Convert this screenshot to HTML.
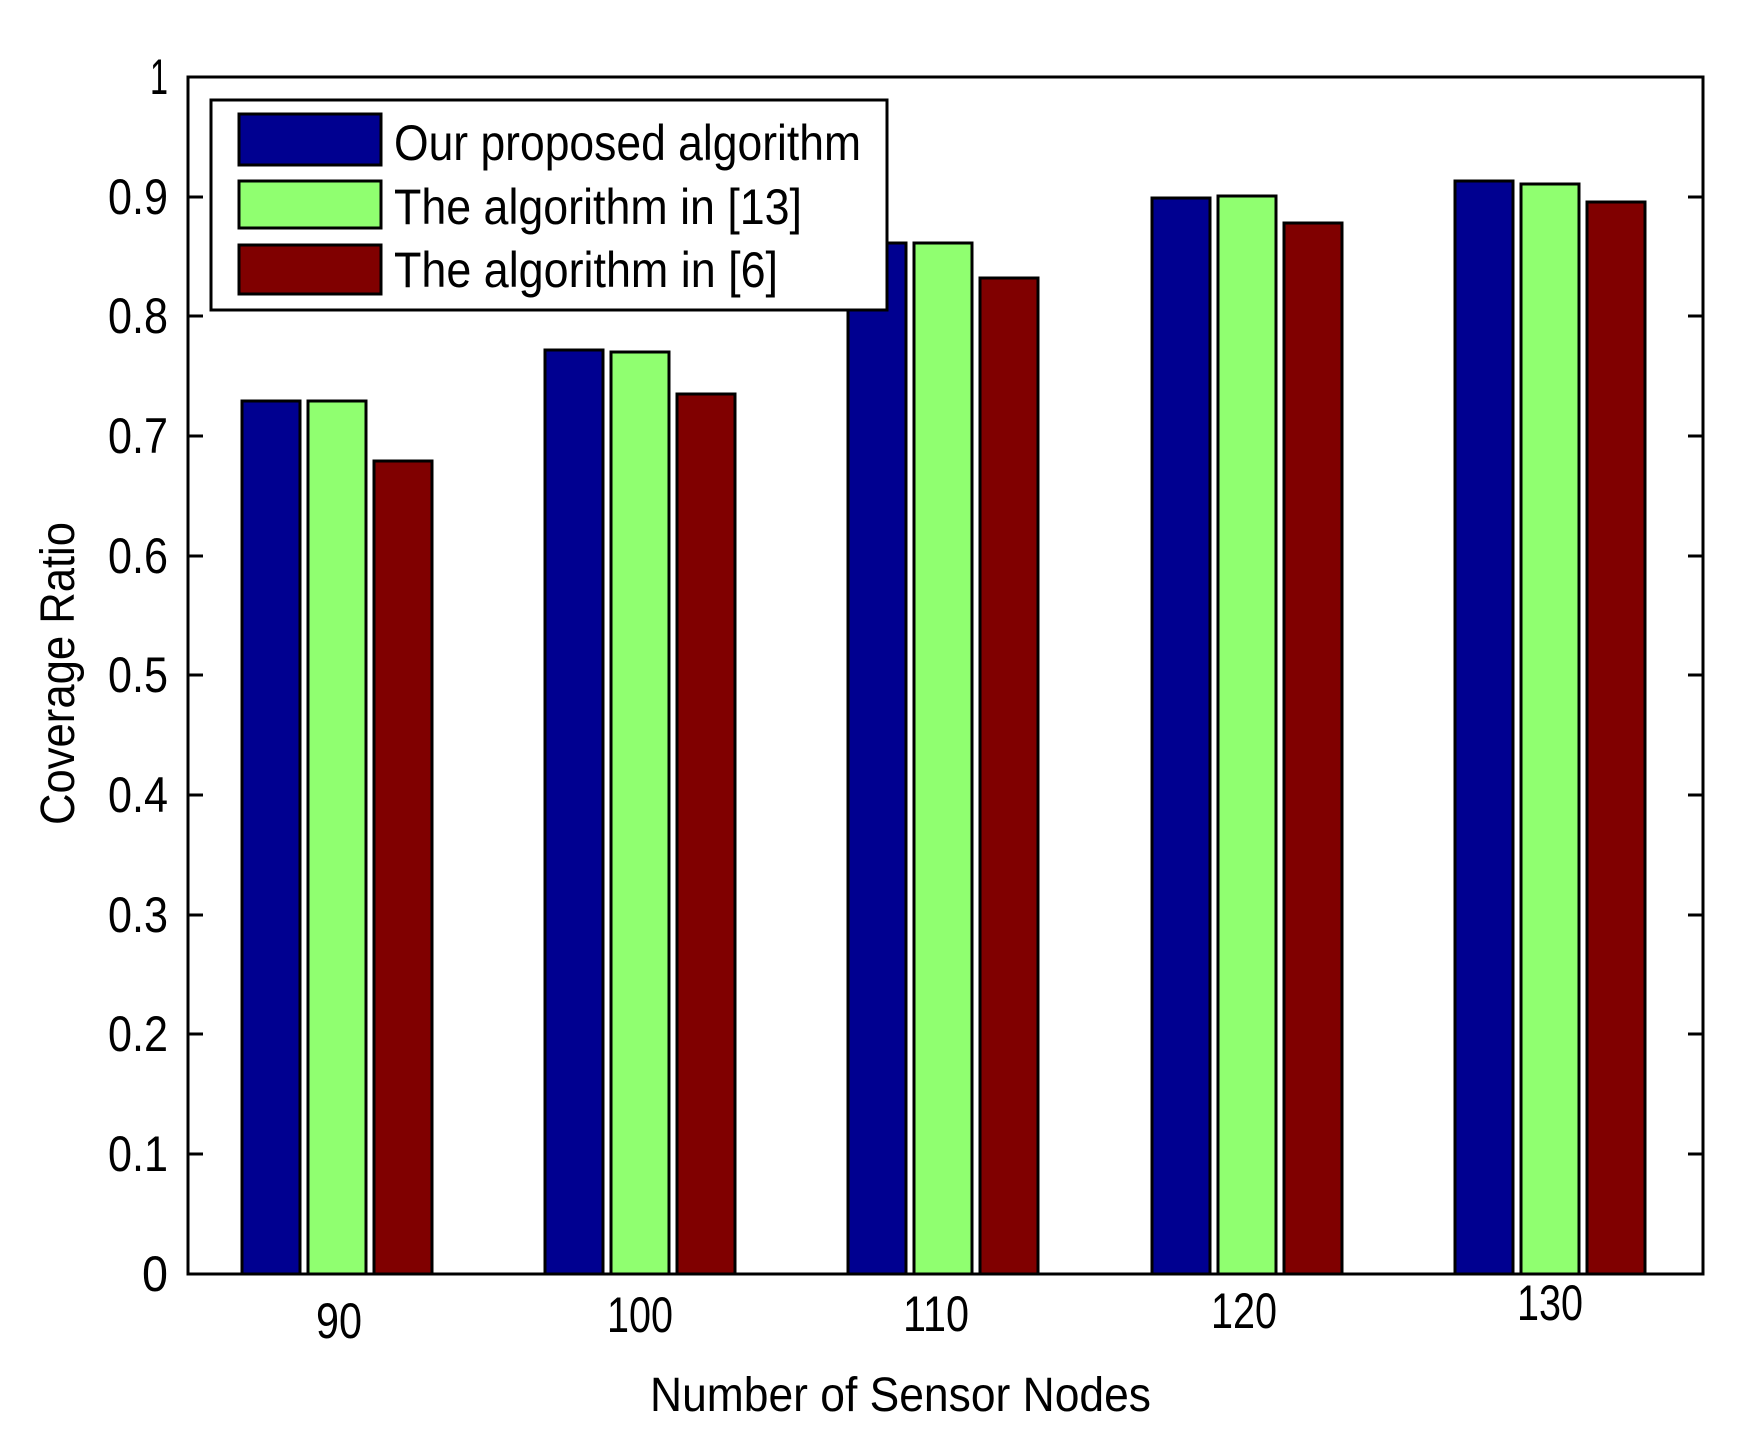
<!DOCTYPE html>
<html><head><style>html,body{margin:0;padding:0;background:#fff}svg{display:block}</style></head>
<body>
<svg width="1761" height="1448" xmlns="http://www.w3.org/2000/svg" font-family="Liberation Sans, sans-serif">
<rect width="1761" height="1448" fill="#fff"/>
<g stroke="#000" stroke-width="3">
<rect x="242" y="401" width="58" height="873" fill="#000090"/>
<rect x="308" y="401" width="58" height="873" fill="#90FF70"/>
<rect x="374" y="461" width="58" height="813" fill="#800000"/>
<rect x="545" y="350" width="58" height="924" fill="#000090"/>
<rect x="611" y="352" width="58" height="922" fill="#90FF70"/>
<rect x="677" y="394" width="58" height="880" fill="#800000"/>
<rect x="848" y="243" width="58" height="1031" fill="#000090"/>
<rect x="914" y="243" width="58" height="1031" fill="#90FF70"/>
<rect x="980" y="278" width="58" height="996" fill="#800000"/>
<rect x="1152" y="198" width="58" height="1076" fill="#000090"/>
<rect x="1218" y="196" width="58" height="1078" fill="#90FF70"/>
<rect x="1284" y="223" width="58" height="1051" fill="#800000"/>
<rect x="1455" y="181" width="58" height="1093" fill="#000090"/>
<rect x="1521" y="184" width="58" height="1090" fill="#90FF70"/>
<rect x="1587" y="202" width="58" height="1072" fill="#800000"/>
</g>
<rect x="188" y="77" width="1515" height="1197" fill="none" stroke="#000" stroke-width="3"/>
<g stroke="#000" stroke-width="3">
<line x1="188" y1="197" x2="203" y2="197"/><line x1="1703" y1="197" x2="1688" y2="197"/>
<line x1="188" y1="316" x2="203" y2="316"/><line x1="1703" y1="316" x2="1688" y2="316"/>
<line x1="188" y1="436" x2="203" y2="436"/><line x1="1703" y1="436" x2="1688" y2="436"/>
<line x1="188" y1="556" x2="203" y2="556"/><line x1="1703" y1="556" x2="1688" y2="556"/>
<line x1="188" y1="675" x2="203" y2="675"/><line x1="1703" y1="675" x2="1688" y2="675"/>
<line x1="188" y1="795" x2="203" y2="795"/><line x1="1703" y1="795" x2="1688" y2="795"/>
<line x1="188" y1="915" x2="203" y2="915"/><line x1="1703" y1="915" x2="1688" y2="915"/>
<line x1="188" y1="1034" x2="203" y2="1034"/><line x1="1703" y1="1034" x2="1688" y2="1034"/>
<line x1="188" y1="1154" x2="203" y2="1154"/><line x1="1703" y1="1154" x2="1688" y2="1154"/>
</g>
<g font-size="50" text-anchor="end" fill="#000">
<text x="168" y="94" textLength="18" lengthAdjust="spacingAndGlyphs">1</text>
<text x="168" y="214" textLength="60" lengthAdjust="spacingAndGlyphs">0.9</text>
<text x="168" y="333" textLength="60" lengthAdjust="spacingAndGlyphs">0.8</text>
<text x="168" y="453" textLength="60" lengthAdjust="spacingAndGlyphs">0.7</text>
<text x="168" y="573" textLength="60" lengthAdjust="spacingAndGlyphs">0.6</text>
<text x="168" y="692" textLength="60" lengthAdjust="spacingAndGlyphs">0.5</text>
<text x="168" y="812" textLength="60" lengthAdjust="spacingAndGlyphs">0.4</text>
<text x="168" y="932" textLength="60" lengthAdjust="spacingAndGlyphs">0.3</text>
<text x="168" y="1051" textLength="60" lengthAdjust="spacingAndGlyphs">0.2</text>
<text x="168" y="1171" textLength="60" lengthAdjust="spacingAndGlyphs">0.1</text>
<text x="168" y="1291" textLength="26" lengthAdjust="spacingAndGlyphs">0</text>
</g>
<g font-size="50" text-anchor="middle" fill="#000">
<text x="339" y="1338" textLength="46" lengthAdjust="spacingAndGlyphs">90</text>
<text x="640" y="1332" textLength="66" lengthAdjust="spacingAndGlyphs">100</text>
<text x="936" y="1331" textLength="66" lengthAdjust="spacingAndGlyphs">110</text>
<text x="1244" y="1328" textLength="66" lengthAdjust="spacingAndGlyphs">120</text>
<text x="1550" y="1320" textLength="66" lengthAdjust="spacingAndGlyphs">130</text>
</g>
<text x="650" y="1411" font-size="48" textLength="501" lengthAdjust="spacingAndGlyphs">Number of Sensor Nodes</text>
<text transform="translate(74,825) rotate(-90)" font-size="48" textLength="303" lengthAdjust="spacingAndGlyphs">Coverage Ratio</text>
<rect x="211" y="100" width="676" height="210" fill="#fff" stroke="#000" stroke-width="3"/>
<rect x="239" y="114" width="142" height="51" fill="#000090" stroke="#000" stroke-width="3"/>
<rect x="239" y="181" width="142" height="47" fill="#90FF70" stroke="#000" stroke-width="3"/>
<rect x="239" y="245" width="142" height="49" fill="#800000" stroke="#000" stroke-width="3"/>
<g font-size="50" fill="#000">
<text x="394" y="160" textLength="467" lengthAdjust="spacingAndGlyphs">Our proposed algorithm</text>
<text x="394" y="224" textLength="408" lengthAdjust="spacingAndGlyphs">The algorithm in [13]</text>
<text x="394" y="287" textLength="384" lengthAdjust="spacingAndGlyphs">The algorithm in [6]</text>
</g>
</svg>
</body></html>
